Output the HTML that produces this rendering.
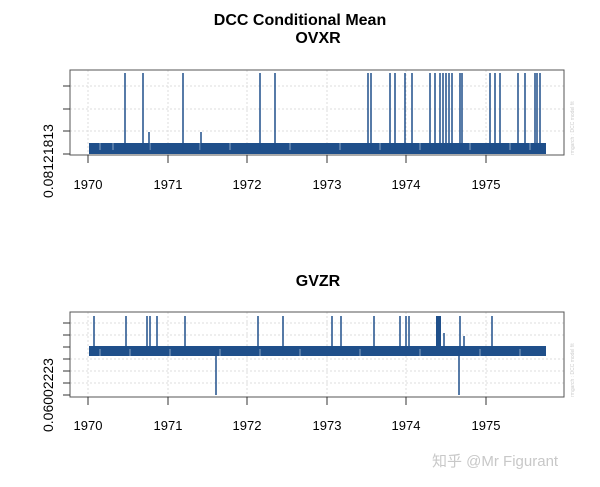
<!DOCTYPE html>
<html><head><style>body{margin:0;background:#fff}svg{display:block;font-family:"Liberation Sans",Arial,sans-serif}</style></head>
<body>
<svg width="600" height="487" xmlns="http://www.w3.org/2000/svg">
<rect width="600" height="487" fill="#fff"/>
<text x="300" y="25" font-size="16" font-weight="bold" text-anchor="middle">DCC Conditional Mean</text>
<text x="318" y="43" font-size="16" font-weight="bold" text-anchor="middle">OVXR</text>
<text x="318" y="286" font-size="16" font-weight="bold" text-anchor="middle">GVZR</text>
<g stroke="#ddd" stroke-dasharray="2,2" stroke-width="1">
<line x1="88" y1="70" x2="88" y2="155"/><line x1="168" y1="70" x2="168" y2="155"/><line x1="247" y1="70" x2="247" y2="155"/><line x1="327" y1="70" x2="327" y2="155"/><line x1="406" y1="70" x2="406" y2="155"/><line x1="486" y1="70" x2="486" y2="155"/>
<line x1="70" y1="86" x2="564" y2="86"/><line x1="70" y1="109" x2="564" y2="109"/><line x1="70" y1="131" x2="564" y2="131"/>
<line x1="88" y1="312" x2="88" y2="397"/><line x1="168" y1="312" x2="168" y2="397"/><line x1="247" y1="312" x2="247" y2="397"/><line x1="327" y1="312" x2="327" y2="397"/><line x1="406" y1="312" x2="406" y2="397"/><line x1="486" y1="312" x2="486" y2="397"/>
<line x1="70" y1="323" x2="564" y2="323"/><line x1="70" y1="335" x2="564" y2="335"/><line x1="70" y1="359" x2="564" y2="359"/><line x1="70" y1="371" x2="564" y2="371"/><line x1="70" y1="383" x2="564" y2="383"/>
</g>
<!-- panel 1 -->
<rect x="89" y="143" width="457" height="11" fill="#1f4f8a"/>
<g stroke="#fff" stroke-width="0.8" opacity="0.6">
<line x1="100" y1="143" x2="100" y2="150"/><line x1="113" y1="143" x2="113" y2="150"/><line x1="150" y1="143" x2="150" y2="150"/><line x1="200" y1="143" x2="200" y2="150"/><line x1="230" y1="143" x2="230" y2="150"/><line x1="290" y1="143" x2="290" y2="150"/><line x1="340" y1="143" x2="340" y2="150"/><line x1="380" y1="143" x2="380" y2="150"/><line x1="420" y1="143" x2="420" y2="150"/><line x1="470" y1="143" x2="470" y2="150"/><line x1="510" y1="143" x2="510" y2="150"/><line x1="530" y1="143" x2="530" y2="150"/>
</g>
<g stroke="#1f4f8a" stroke-width="1.5">
<line x1="125" y1="73" x2="125" y2="150"/><line x1="143" y1="73" x2="143" y2="150"/><line x1="183" y1="73" x2="183" y2="150"/><line x1="260" y1="73" x2="260" y2="150"/><line x1="275" y1="73" x2="275" y2="150"/>
<line x1="149" y1="132" x2="149" y2="150"/><line x1="201" y1="132" x2="201" y2="150"/>
<line x1="368" y1="73" x2="368" y2="150"/><line x1="371" y1="73" x2="371" y2="150"/><line x1="390" y1="73" x2="390" y2="150"/><line x1="395" y1="73" x2="395" y2="150"/><line x1="405" y1="73" x2="405" y2="150"/><line x1="412" y1="73" x2="412" y2="150"/>
<line x1="430" y1="73" x2="430" y2="150"/><line x1="435" y1="73" x2="435" y2="150"/><line x1="440" y1="73" x2="440" y2="150"/><line x1="443" y1="73" x2="443" y2="150"/><line x1="446" y1="73" x2="446" y2="150"/><line x1="449" y1="73" x2="449" y2="150"/><line x1="452" y1="73" x2="452" y2="150"/>
<line x1="460" y1="73" x2="460" y2="150"/><line x1="462" y1="73" x2="462" y2="150"/><line x1="490" y1="73" x2="490" y2="150"/><line x1="495" y1="73" x2="495" y2="150"/><line x1="500" y1="73" x2="500" y2="150"/><line x1="518" y1="73" x2="518" y2="150"/><line x1="525" y1="73" x2="525" y2="150"/><line x1="535" y1="73" x2="535" y2="150"/><line x1="537" y1="73" x2="537" y2="150"/><line x1="540" y1="73" x2="540" y2="150"/>
</g>
<rect x="70" y="70" width="494" height="85" fill="none" stroke="#555" stroke-width="1"/>
<g stroke="#333" stroke-width="1">
<line x1="63" y1="86" x2="70" y2="86"/><line x1="63" y1="109" x2="70" y2="109"/><line x1="63" y1="131" x2="70" y2="131"/><line x1="63" y1="154" x2="70" y2="154"/>
<line x1="88" y1="155" x2="88" y2="163"/><line x1="168" y1="155" x2="168" y2="163"/><line x1="247" y1="155" x2="247" y2="163"/><line x1="327" y1="155" x2="327" y2="163"/><line x1="406" y1="155" x2="406" y2="163"/><line x1="486" y1="155" x2="486" y2="163"/>
</g>
<g font-size="13" text-anchor="middle">
<text x="88" y="189">1970</text><text x="168" y="189">1971</text><text x="247" y="189">1972</text><text x="327" y="189">1973</text><text x="406" y="189">1974</text><text x="486" y="189">1975</text>
</g>
<text transform="translate(53,198) rotate(-90)" font-size="14" text-anchor="start">0.08121813</text>
<text transform="translate(574,155) rotate(-90)" font-size="5" fill="#ccc">rmgarch : DCC model fit</text>
<!-- panel 2 -->
<rect x="89" y="346" width="457" height="10" fill="#1f4f8a"/>
<g stroke="#fff" stroke-width="0.8" opacity="0.6">
<line x1="100" y1="349" x2="100" y2="356"/><line x1="130" y1="349" x2="130" y2="356"/><line x1="170" y1="349" x2="170" y2="356"/><line x1="220" y1="349" x2="220" y2="356"/><line x1="260" y1="349" x2="260" y2="356"/><line x1="300" y1="349" x2="300" y2="356"/><line x1="360" y1="349" x2="360" y2="356"/><line x1="420" y1="349" x2="420" y2="356"/><line x1="480" y1="349" x2="480" y2="356"/><line x1="520" y1="349" x2="520" y2="356"/>
</g>
<g stroke="#1f4f8a" stroke-width="1.5">
<line x1="94" y1="316" x2="94" y2="350"/><line x1="126" y1="316" x2="126" y2="350"/><line x1="147" y1="316" x2="147" y2="350"/><line x1="150" y1="316" x2="150" y2="350"/><line x1="157" y1="316" x2="157" y2="350"/><line x1="185" y1="316" x2="185" y2="350"/><line x1="258" y1="316" x2="258" y2="350"/><line x1="283" y1="316" x2="283" y2="350"/><line x1="332" y1="316" x2="332" y2="350"/><line x1="341" y1="316" x2="341" y2="350"/><line x1="374" y1="316" x2="374" y2="350"/><line x1="400" y1="316" x2="400" y2="350"/><line x1="406" y1="316" x2="406" y2="350"/><line x1="409" y1="316" x2="409" y2="350"/><line x1="444" y1="333" x2="444" y2="350"/><line x1="460" y1="316" x2="460" y2="350"/><line x1="464" y1="336" x2="464" y2="350"/><line x1="492" y1="316" x2="492" y2="350"/>
<line x1="216" y1="350" x2="216" y2="395"/><line x1="459" y1="350" x2="459" y2="395"/>
</g>
<rect x="436" y="316" width="5" height="34" fill="#1f4f8a"/>
<rect x="70" y="312" width="494" height="85" fill="none" stroke="#555" stroke-width="1"/>
<g stroke="#333" stroke-width="1">
<line x1="63" y1="323" x2="70" y2="323"/><line x1="63" y1="335" x2="70" y2="335"/><line x1="63" y1="347" x2="70" y2="347"/><line x1="63" y1="359" x2="70" y2="359"/><line x1="63" y1="371" x2="70" y2="371"/><line x1="63" y1="383" x2="70" y2="383"/><line x1="63" y1="395" x2="70" y2="395"/>
<line x1="88" y1="397" x2="88" y2="405"/><line x1="168" y1="397" x2="168" y2="405"/><line x1="247" y1="397" x2="247" y2="405"/><line x1="327" y1="397" x2="327" y2="405"/><line x1="406" y1="397" x2="406" y2="405"/><line x1="486" y1="397" x2="486" y2="405"/>
</g>
<g font-size="13" text-anchor="middle">
<text x="88" y="430">1970</text><text x="168" y="430">1971</text><text x="247" y="430">1972</text><text x="327" y="430">1973</text><text x="406" y="430">1974</text><text x="486" y="430">1975</text>
</g>
<text transform="translate(53,432) rotate(-90)" font-size="14" text-anchor="start">0.06002223</text>
<text transform="translate(574,397) rotate(-90)" font-size="5" fill="#ccc">rmgarch : DCC model fit</text>
<text x="432" y="466" font-size="15" fill="#c8c8c8" font-family="'Liberation Sans','Noto Sans CJK SC',sans-serif">知乎 @Mr Figurant</text>
</svg>
</body></html>
